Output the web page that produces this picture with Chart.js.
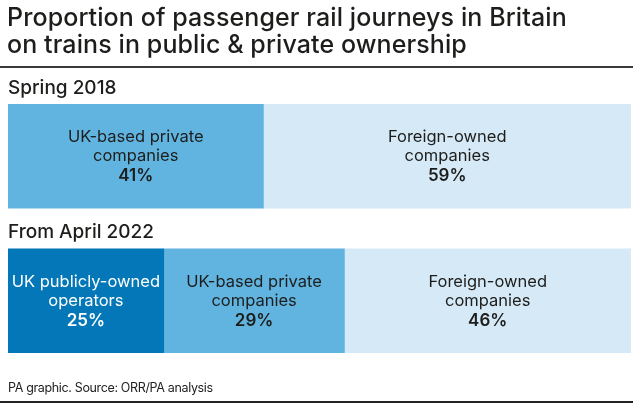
<!DOCTYPE html>
<html>
<head>
<meta charset="utf-8">
<script src="https://cdn.jsdelivr.net/npm/chart.js@4/dist/chart.umd.min.js"></script>
<style>
  html, body { margin: 0; padding: 0; background: #ffffff; }
  body { width: 640px; height: 408px; position: relative; overflow: hidden; font-family: Inter, "Liberation Sans", Arial, sans-serif; color: #1d1d1b; }
  #title { position: absolute; left: 7px; top: 4px; font-size: 25px; line-height: 27px; font-weight: 500; letter-spacing: 0.1px; }
  .rule { position: absolute; left: 0; width: 633px; background: #3a3a3a; }
  .section { position: absolute; left: 8px; font-size: 19px; font-weight: 500; letter-spacing: 0px; line-height: 20px; z-index: 2; }
  #footer { position: absolute; left: 8px; top: 380px; font-size: 12.5px; letter-spacing: -0.35px; color: #222; }
  #wrap { position: absolute; left: 0; top: 0; width: 640px; height: 408px; }
</style>
</head>
<body>
<div id="wrap"><canvas id="c" width="640" height="408"></canvas></div>
<div id="title">Proportion of passenger rail journeys in Britain<br>on trains in public &amp; private ownership</div>
<div class="rule" style="top:66px;height:2px;"></div>
<div class="section" style="top:78px;">Spring 2018</div>
<div class="section" style="top:222px;">From April 2022</div>
<div id="footer">PA graphic. Source: ORR/PA analysis</div>
<div class="rule" style="top:401px;height:2px;background:#222;"></div>
<script>
const categories = ['Spring 2018', 'From April 2022'];
const seriesNames = ['UK publicly-owned operators', 'UK-based private companies', 'Foreign-owned companies'];
const seriesLabelLines = [['UK publicly-owned', 'operators'], ['UK-based private', 'companies'], ['Foreign-owned', 'companies']];
const publiclyOwned = [null, 25];
const ukPrivate = [41, 29];
const foreignOwned = [59, 46];
const seriesColors = ['#0377b7', '#60b4df', '#d5e9f6'];
const textColors = ['#ffffff', '#1d1d1b', '#1d1d1b'];

const labelPlugin = {
  id: 'segLabels',
  afterDatasetsDraw(chart) {
    const ctx = chart.ctx;
    chart.data.datasets.forEach((ds, di) => {
      const meta = chart.getDatasetMeta(di);
      meta.data.forEach((bar, i) => {
        const v = ds.data[i];
        if (!v) return;
        const cx = (bar.x + bar.base) / 2;
        const cy = bar.y;
        ctx.save();
        ctx.fillStyle = textColors[di];
        ctx.textAlign = 'center';
        ctx.textBaseline = 'middle';
        const lines = seriesLabelLines[di];
        ctx.font = '400 16.5px Inter, "Liberation Sans", Arial, sans-serif';
        ctx.fillText(lines[0], cx, cy - 19);
        ctx.fillText(lines[1], cx, cy + 0);
        ctx.font = '600 17px Inter, "Liberation Sans", Arial, sans-serif';
        ctx.fillText(v + '%', cx, cy + 20);
        ctx.restore();
      });
    });
  }
};

new Chart(document.getElementById('c'), {
  type: 'bar',
  data: {
    labels: categories,
    datasets: [
      { label: seriesNames[0], data: publiclyOwned, backgroundColor: seriesColors[0] },
      { label: seriesNames[1], data: ukPrivate, backgroundColor: seriesColors[1] },
      { label: seriesNames[2], data: foreignOwned, backgroundColor: seriesColors[2] }
    ]
  },
  options: {
    indexAxis: 'y',
    responsive: false,
    animation: false,
    devicePixelRatio: 1,
    layout: { padding: { left: 8, right: 9, top: 84, bottom: 35 } },
    datasets: { bar: { barThickness: 104, borderWidth: 0, borderSkipped: false } },
    scales: {
      x: { stacked: true, min: 0, max: 100, display: false },
      y: { stacked: true, display: false }
    },
    plugins: { legend: { display: false }, tooltip: { enabled: false }, title: { display: false } }
  },
  plugins: [labelPlugin]
});
</script>
</body>
</html>
